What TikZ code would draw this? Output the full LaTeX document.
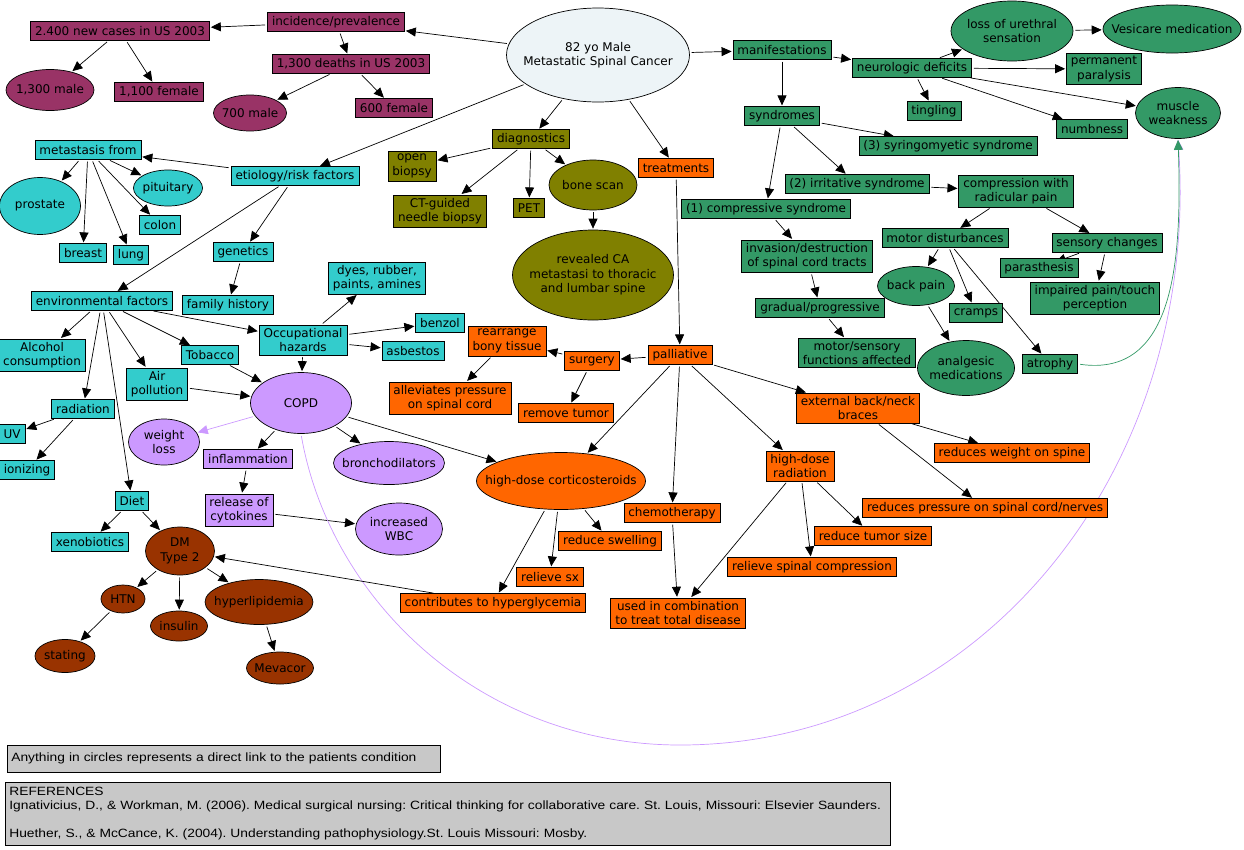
\documentclass[tikz,border=0pt]{standalone}
\usepackage{fontspec}
\setmainfont{DejaVu Sans}
\newfontfamily\notefont[FakeStretch=1.15]{Liberation Sans}
\usepackage{tikz}
\usetikzlibrary{arrows.meta}
\usetikzlibrary{shapes.geometric}
\usetikzlibrary{backgrounds}

\definecolor{rootfill}{HTML}{EDF4F7}
\definecolor{incfill}{HTML}{993366}
\definecolor{riskfill}{HTML}{33CCCC}
\definecolor{diagfill}{HTML}{808000}
\definecolor{treatfill}{HTML}{FF6600}
\definecolor{signfill}{HTML}{339966}
\definecolor{copdfill}{HTML}{CC99FF}
\definecolor{dmfill}{HTML}{993300}
\definecolor{notefill}{HTML}{C8C8C8}

\begin{document}
\begin{tikzpicture}[x=1pt, y=-1pt, font=\fontsize{12}{14.5}\selectfont,
    box/.style={draw, line width=0.7pt, inner xsep=4.5pt, inner ysep=3pt, minimum height=18.5pt, align=center},
    oval/.style 2 args={ellipse, draw, line width=0.7pt, inner sep=-30pt, minimum width=#1pt, minimum height=#2pt, align=center},
    notebox/.style={draw, fill=notefill, line width=0.7pt, inner xsep=4pt, align=left, font=\notefont\fontsize{12}{14}\selectfont\frenchspacing},
    arr/.style={-{Triangle[length=10pt, width=9pt]}, line width=0.7pt, shorten <=2pt, shorten >=1pt},
    copdline/.style={draw=copdfill},
    signline/.style={draw=signfill}]
\useasboundingbox (0,0) rectangle (1244,849);

% centre
\node[oval={183}{94}, fill=rootfill] (root) at (598,55) {82 yo Male\\Metastatic Spinal Cancer};

% incidence
\node[box, fill=incfill] (inc) at (336,22) {incidence/prevalence};
\node[box, fill=incfill] (cases) at (120,31) {2.400 new cases in US 2003};
\node[box, fill=incfill] (deaths) at (351,64) {1,300 deaths in US 2003};
\node[oval={88}{41}, fill=incfill] (male1) at (50,90) {1,300 male};
\node[box, fill=incfill] (fem1) at (159,92) {1,100 female};
\node[oval={73}{36}, fill=incfill] (male2) at (250,113) {700 male};
\node[box, fill=incfill] (fem2) at (394,108) {600 female};

% etiology
\node[box, fill=riskfill] (etio) at (295,176) {etiology/risk factors};
\node[box, fill=riskfill] (meta) at (88,150) {metastasis from};
\node[oval={81}{57}, fill=riskfill] (prost) at (40,206) {prostate};
\node[oval={69}{36}, fill=riskfill] (pit) at (168,188) {pituitary};
\node[box, fill=riskfill] (colon) at (160,225) {colon};
\node[box, fill=riskfill] (breast) at (83,253) {breast};
\node[box, fill=riskfill] (lung) at (131,255) {lung};
\node[box, fill=riskfill] (genes) at (243,252) {genetics};
\node[box, fill=riskfill] (family) at (228,305) {family history};
\node[box, fill=riskfill] (env) at (102,301) {environmental factors};
\node[box, fill=riskfill] (alc) at (42,355) {Alcohol\\consumption};
\node[box, fill=riskfill] (rad) at (83,409) {radiation};
\node[box, fill=riskfill] (uv) at (12,434) {UV};
\node[box, fill=riskfill] (ion) at (27,470) {ionizing};
\node[box, fill=riskfill] (diet) at (132,501) {Diet};
\node[box, fill=riskfill] (xeno) at (90,542) {xenobiotics};
\node[box, fill=riskfill] (air) at (157,384) {Air\\pollution};
\node[box, fill=riskfill] (tob) at (210,355) {Tobacco};
\node[box, fill=riskfill] (occ) at (303,340) {Occupational\\hazards};
\node[box, fill=riskfill] (dyes) at (377,278) {dyes, rubber,\\paints, amines};
\node[box, fill=riskfill] (benzol) at (440,323) {benzol};
\node[box, fill=riskfill] (asb) at (413,351) {asbestos};

% COPD
\node[oval={101}{61}, fill=copdfill] (copd) at (301,403) {COPD};
\node[oval={71}{46}, fill=copdfill] (wloss) at (164,442) {weight\\loss};
\node[box, fill=copdfill] (inflam) at (248,459) {inflammation};
\node[oval={111}{43}, fill=copdfill] (broncho) at (389,463) {bronchodilators};
\node[box, fill=copdfill] (cytok) at (239,510) {release of\\cytokines};
\node[oval={87}{52}, fill=copdfill] (wbc) at (399,529) {increased\\WBC};

% DM
\node[oval={69}{48}, fill=dmfill] (dm) at (180,551) {DM\\Type 2};
\node[oval={44}{28}, fill=dmfill] (htn) at (123,599) {HTN};
\node[oval={57}{30}, fill=dmfill] (insulin) at (179,626) {insulin};
\node[oval={108}{45}, fill=dmfill] (hyper) at (259,602) {hyperlipidemia};
\node[oval={60}{33}, fill=dmfill] (stating) at (65,656) {stating};
\node[oval={67}{32}, fill=dmfill] (mevacor) at (280,668) {Mevacor};

% diagnostics
\node[box, fill=diagfill] (diag) at (531,139) {diagnostics};
\node[box, fill=diagfill] (openb) at (412,166) {open\\biopsy};
\node[box, fill=diagfill] (ctb) at (440,211) {CT-guided\\needle biopsy};
\node[box, fill=diagfill] (pet) at (529,208) {PET};
\node[oval={88}{50}, fill=diagfill] (bone) at (593,185) {bone scan};
\node[oval={161}{90}, fill=diagfill] (reveal) at (593,275) {revealed CA\\metastasi to thoracic\\and lumbar spine};

% treatments
\node[box, fill=treatfill] (treat) at (676,168) {treatments};
\node[box, fill=treatfill] (palli) at (680,355) {palliative};
\node[box, fill=treatfill] (surg) at (592,361) {surgery};
\node[box, fill=treatfill] (rearr) at (507,341) {rearrange\\bony tissue};
\node[box, fill=treatfill] (allev) at (450,398) {alleviates pressure\\on spinal cord};
\node[box, fill=treatfill] (remove) at (566,413) {remove tumor};
\node[box, fill=treatfill] (brace) at (858,408) {external back/neck\\braces};
\node[oval={169}{57}, fill=treatfill] (cortico) at (561,481) {high-dose corticosteroids};
\node[box, fill=treatfill] (chemo) at (672,513) {chemotherapy};
\node[box, fill=treatfill] (hdrad) at (800,466) {high-dose\\radiation};
\node[box, fill=treatfill] (redw) at (1012,453) {reduces weight on spine};
\node[box, fill=treatfill] (redp) at (985,508) {reduces pressure on spinal cord/nerves};
\node[box, fill=treatfill] (redt) at (873,536) {reduce tumor size};
\node[box, fill=treatfill] (redsw) at (610,541) {reduce swelling};
\node[box, fill=treatfill] (relsp) at (812,567) {relieve spinal compression};
\node[box, fill=treatfill] (relsx) at (550,577) {relieve sx};
\node[box, fill=treatfill] (contrib) at (493,603) {contributes to hyperglycemia};
\node[box, fill=treatfill] (combo) at (678,613) {used in combination\\to treat total disease};

% manifestations
\node[box, fill=signfill] (manif) at (782,50) {manifestations};
\node[box, fill=signfill] (neuro) at (912,68) {neurologic deficits};
\node[oval={122}{60}, fill=signfill] (urethra) at (1012,31) {loss of urethral\\sensation};
\node[oval={138}{48}, fill=signfill] (vesi) at (1172,29) {Vesicare medication};
\node[box, fill=signfill] (paral) at (1104,69) {permanent\\paralysis};
\node[box, fill=signfill] (tingle) at (934,111) {tingling};
\node[box, fill=signfill] (numb) at (1092,129) {numbness};
\node[oval={85}{51}, fill=signfill] (mw) at (1178,113) {muscle\\weakness};
\node[box, fill=signfill] (synd) at (782,116) {syndromes};
\node[box, fill=signfill] (syr) at (948,146) {(3) syringomyetic syndrome};
\node[box, fill=signfill] (irr) at (857,184) {(2) irritative syndrome};
\node[box, fill=signfill] (radic) at (1016,191) {compression with\\radicular pain};
\node[box, fill=signfill] (comp) at (766,209) {(1) compressive syndrome};
\node[box, fill=signfill] (invas) at (807,256) {invasion/destruction\\of spinal cord tracts};
\node[box, fill=signfill] (motor) at (945,238) {motor disturbances};
\node[box, fill=signfill] (sens) at (1107,243) {sensory changes};
\node[box, fill=signfill] (paras) at (1039,268) {parasthesis};
\node[box, fill=signfill] (impair) at (1095,298) {impaired pain/touch\\perception};
\node[oval={77}{39}, fill=signfill] (bpain) at (916,286) {back pain};
\node[box, fill=signfill] (cramps) at (976,313) {cramps};
\node[box, fill=signfill] (grad) at (820,308) {gradual/progressive};
\node[box, fill=signfill] (motsens) at (857,353) {motor/sensory\\functions affected};
\node[oval={97}{55}, fill=signfill] (analg) at (966,368) {analgesic\\medications};
\node[box, fill=signfill] (atrophy) at (1050,364) {atrophy};

% notes
\node[notebox, anchor=north west, text width=425pt, minimum height=27pt] (note) at (7,745) {Anything in circles represents a direct link to the patients condition};
\node[notebox, anchor=north west, text width=877pt, minimum height=63pt] (refs) at (5,782) {REFERENCES\\Ignativicius, D., \& Workman, M. (2006). Medical surgical nursing: Critical thinking for collaborative care. St. Louis, Missouri: Elsevier Saunders.\\[14pt]Huether, S., \& McCance, K. (2004). Understanding pathophysiology.St. Louis Missouri: Mosby.};

\begin{scope}[on background layer]
    % incidence
    \draw[arr] (root) -- (inc);
    \draw[arr] (inc) edge (cases) edge (deaths);
    \draw[arr] (cases) edge (male1) edge (fem1);
    \draw[arr] (deaths) edge (male2) edge (fem2);
    % etiology
    \draw[arr] (root) -- (etio);
    \draw[arr] (etio) edge (meta) edge (genes) edge (env);
    \draw[arr] (meta) edge (prost) edge (breast) edge (lung) edge (colon) edge (pit);
    \draw[arr] (genes) -- (family);
    \draw[arr] (env) edge (alc) edge (rad) edge (diet) edge (air) edge (tob) edge (occ);
    \draw[arr] (occ) edge (dyes) edge (benzol) edge (asb) edge (copd);
    \draw[arr] (tob) -- (copd);
    \draw[arr] (air) -- (copd);
    \draw[arr] (rad) edge (uv) edge (ion);
    \draw[arr] (diet) edge (xeno) edge (dm);
    % COPD
    \draw[arr, copdline] (copd) -- (wloss);
    \draw[arr] (copd) edge (inflam) edge (broncho) edge (cortico);
    \draw[arr] (inflam) -- (cytok);
    \draw[arr] (cytok) -- (wbc);
    \draw[arr, copdline] (copd.south) .. controls (330,600) and (480,745) .. (680,745) .. controls (980,745) and (1200,470) .. (mw.south);
    % DM
    \draw[arr] (dm) edge (htn) edge (insulin) edge (hyper);
    \draw[arr] (htn) -- (stating);
    \draw[arr] (hyper) -- (mevacor);
    \draw[arr] (contrib) -- (dm);
    % diagnostics
    \draw[arr] (root) -- (diag);
    \draw[arr] (diag) edge (openb) edge (ctb) edge (pet) edge (bone);
    \draw[arr] (bone) -- (reveal);
    % treatments
    \draw[arr] (root) -- (treat);
    \draw[arr] (treat) -- (palli);
    \draw[arr] (palli) edge (surg) edge (cortico) edge (chemo) edge (hdrad) edge (brace);
    \draw[arr] (surg) edge (rearr) edge (remove);
    \draw[arr] (rearr) -- (allev);
    \draw[arr] (brace) edge (redw) edge (redp);
    \draw[arr] (hdrad) edge (combo) edge (relsp) edge (redt);
    \draw[arr] (cortico) edge (contrib) edge (relsx) edge (redsw);
    \draw[arr] (chemo) -- (combo);
    % manifestations
    \draw[arr] (root) -- (manif);
    \draw[arr] (manif) edge (neuro) edge (synd);
    \draw[arr] (neuro) edge (urethra) edge (paral) edge (mw) edge (numb) edge (tingle);
    \draw[arr] (urethra) -- (vesi);
    \draw[arr] (synd) edge (syr) edge (irr) edge (comp);
    \draw[arr] (irr) -- (radic);
    \draw[arr] (radic) edge (motor) edge (sens);
    \draw[arr] (motor) edge (bpain) edge (cramps) edge (atrophy);
    \draw[arr] (sens) edge (impair) edge[shorten >=-10pt] (paras);
    \draw[arr] (bpain) -- (analg);
    \draw[arr] (comp) -- (invas);
    \draw[arr] (invas) -- (grad);
    \draw[arr] (grad) -- (motsens);
    \draw[arr, signline] (atrophy.east) .. controls (1175,378) and (1182,260) .. (mw.south);
\end{scope}
\end{tikzpicture}
\end{document}
